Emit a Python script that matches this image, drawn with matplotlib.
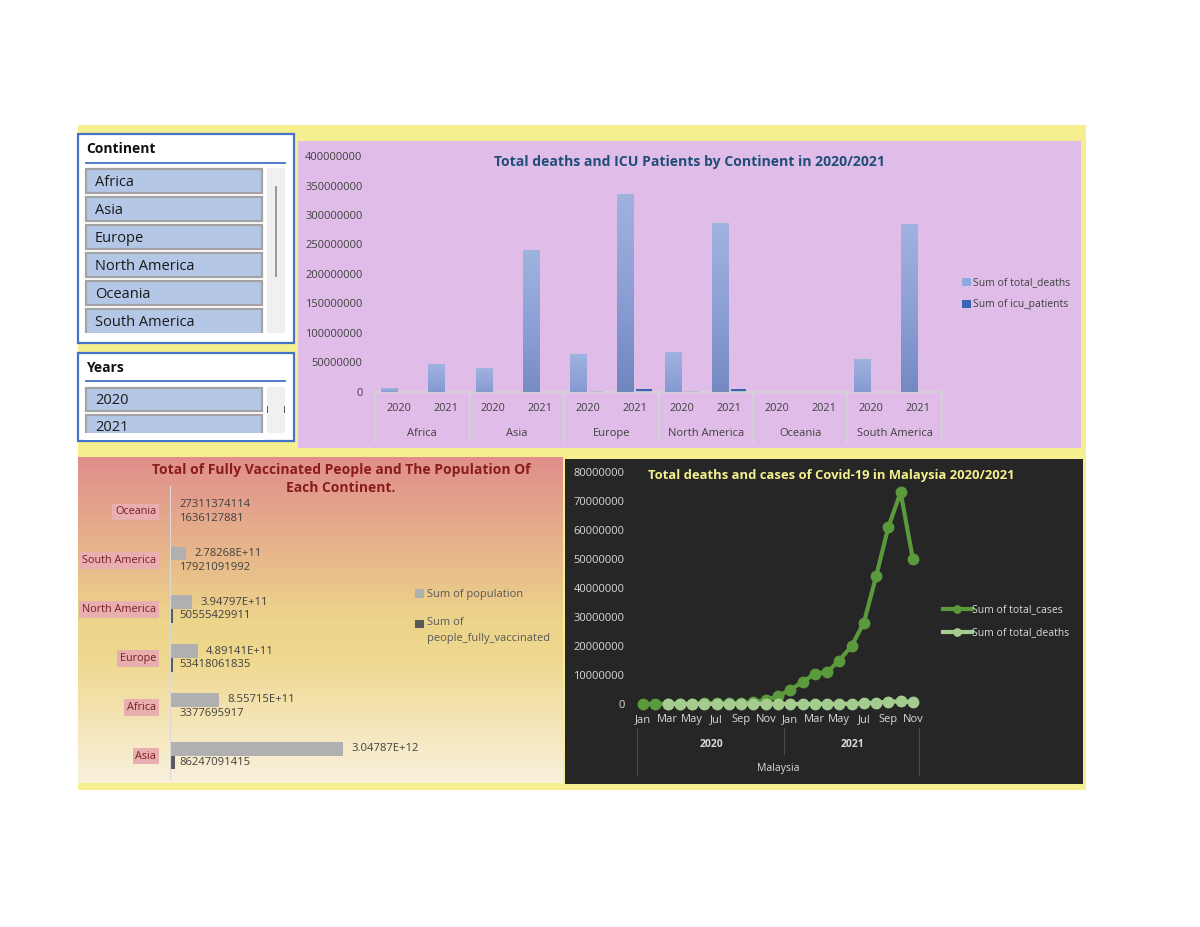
import numpy as np
import matplotlib
matplotlib.use('Agg')
import matplotlib.pyplot as plt
from matplotlib.patches import Rectangle
from matplotlib.colors import LinearSegmentedColormap

plt.rcParams['font.family'] = ['Open Sans', 'DejaVu Sans']

W, H = 1200, 927

# slicers
continents = ['Africa', 'Asia', 'Europe', 'North America', 'Oceania', 'South America']
slicer_years = ['2020', '2021']

# top chart
group_years = ['2020', '2021']
total_deaths = [6e6, 48e6, 40e6, 240e6, 64e6, 335e6, 67e6, 286e6, 0.3e6, 0.8e6, 56e6, 284e6]
icu_patients = [0, 0, 0, 0, 2.5e6, 5e6, 2.5e6, 5e6, 0, 0, 0, 0]
deaths_ticks = [0, 50000000, 100000000, 150000000, 200000000, 250000000, 300000000, 350000000, 400000000]

# bottom left chart, top to bottom
vax_continents = ['Oceania', 'South America', 'North America', 'Europe', 'Africa', 'Asia']
population = [27311374114, 2.78268e11, 3.94797e11, 4.89141e11, 8.55715e11, 3.04787e12]
fully_vaccinated = [1636127881, 17921091992, 50555429911, 53418061835, 3377695917, 86247091415]
population_labels = ['27311374114', '2.78268E+11', '3.94797E+11', '4.89141E+11', '8.55715E+11', '3.04787E+12']
vaccinated_labels = ['1636127881', '17921091992', '50555429911', '53418061835', '3377695917', '86247091415']

# bottom right chart
months = ['Jan', 'Feb', 'Mar', 'Apr', 'May', 'Jun', 'Jul', 'Aug', 'Sep', 'Oct', 'Nov', 'Dec',
          'Jan', 'Feb', 'Mar', 'Apr', 'May', 'Jun', 'Jul', 'Aug', 'Sep', 'Oct', 'Nov']
my_cases = [0, 0, 0.05e6, 0.1e6, 0.15e6, 0.2e6, 0.25e6, 0.3e6, 0.4e6, 0.6e6, 1.5e6, 2.6e6,
            5e6, 7.5e6, 10.5e6, 11e6, 15e6, 20e6, 28e6, 44e6, 61e6, 73e6, 50e6]
my_deaths = [np.nan, np.nan, 0, 0, 0.01e6, 0.01e6, 0.01e6, 0.01e6, 0.01e6, 0.01e6, 0.02e6, 0.02e6,
             0.02e6, 0.02e6, 0.03e6, 0.04e6, 0.05e6, 0.1e6, 0.2e6, 0.5e6, 0.8e6, 0.9e6, 0.7e6]
cases_ticks = [0, 10000000, 20000000, 30000000, 40000000, 50000000, 60000000, 70000000, 80000000]

fig = plt.figure(figsize=(W / 100, H / 100), dpi=100, facecolor='white')

# everything that is not a chart is laid out in pixels on this one
bg = fig.add_axes([0, 0, 1, 1])
bg.set_xlim(0, W)
bg.set_ylim(H, 0)
bg.axis('off')


def box(x0, y0, x1, y1, fc, ec='none', lw=0, z=1):
    bg.add_patch(Rectangle((x0, y0), x1 - x0, y1 - y0, fc=fc, ec=ec, lw=lw, zorder=z))


def px_axes(x0, y0, x1, y1):
    ax = fig.add_axes([x0 / W, 1 - y1 / H, (x1 - x0) / W, (y1 - y0) / H])
    ax.patch.set_alpha(0)
    return ax


box(78, 125, 1086, 790, '#F6EF8F')
box(298, 141, 1081, 448, '#E0BDE8')
box(565, 459, 1083, 784, '#262626')

grad = LinearSegmentedColormap.from_list('g', [(0, '#E08E8C'), (0.5, '#ECD48A'), (0.62, '#EFD88F'), (1, '#F9F1DC')])
bg.imshow(np.linspace(0, 1, 256).reshape(-1, 1), cmap=grad, extent=(78, 563, 783, 457), aspect='auto', zorder=1)
bg.set_xlim(0, W)
bg.set_ylim(H, 0)

# slicers
blue = '#4472C4'
box(77.5, 134, 294, 343, 'white', blue, 1.6, 2)
box(77.5, 353, 294, 441, 'white', blue, 1.6, 2)
bg.text(86, 149, 'Continent', fontsize=10, fontweight='bold', color='#111111', va='center', zorder=3)
bg.text(86, 368, 'Years', fontsize=10, fontweight='bold', color='#111111', va='center', zorder=3)
bg.plot([86, 285], [162.5, 162.5], color=blue, lw=1.3, zorder=3)
bg.plot([86, 285], [380.5, 380.5], color=blue, lw=1.3, zorder=3)

item_tops = [168.5, 196.5, 224.5, 252.5, 280.5, 309]
item_bottoms = [193, 221, 249, 277, 305, 336]
for name, t, b in zip(continents, item_tops, item_bottoms):
    box(86, t, 262, b, '#B4C7E7', '#A3A3A3', 1.6, 3)
    bg.text(95, t + 13.5, name, fontsize=10.5, color='#1A1A1A', va='center', zorder=5)
box(84, 333, 264, 341, 'white', z=4)
box(267, 168, 285, 333, '#F0F0F0', z=3)
box(274.5, 186, 277, 277, '#9A9A9A', z=4)

for name, t, b in zip(slicer_years, [387.5, 414.5], [411, 437]):
    box(86, t, 262, b, '#B4C7E7', '#A3A3A3', 1.6, 3)
    bg.text(95, t + 12.5, name, fontsize=10.5, color='#1A1A1A', va='center', zorder=5)
box(84, 433, 264, 439.5, 'white', z=4)
box(267, 387, 285, 433, '#F0F0F0', z=3)
box(266.5, 406, 267.5, 413, '#555555', z=4)
box(283.5, 406, 284.5, 413, '#555555', z=4)

# top chart
ax = px_axes(375, 156, 942, 392)
x = np.arange(len(total_deaths))
bars = ax.bar(x - 0.2, total_deaths, width=0.34, color='#8EA9DB')
bars2 = ax.bar(x + 0.19, icu_patients, width=0.33, color='#3A62B5')
bar_cmap = LinearSegmentedColormap.from_list('b', ['#7086BE', '#8C9FD5', '#A0B2DE'])
for b in bars:
    if b.get_height() < 1e6:
        continue
    # lighter at the top, getting darker towards the bottom of the tall bars
    low = max(0.0, 0.45 - b.get_height() / 335e6 * 0.45)
    img = ax.imshow(np.linspace(1, low, 64).reshape(-1, 1), cmap=bar_cmap, vmin=0, vmax=1, aspect='auto',
                    extent=(b.get_x(), b.get_x() + b.get_width(), 0, b.get_height()), zorder=3)
    img.set_clip_path(b)
    b.set_visible(False)
ax.set_xlim(-0.5, 11.5)
ax.set_ylim(0, 400000000)
for s in ['top', 'right', 'left']:
    ax.spines[s].set_visible(False)
ax.spines['bottom'].set_color('#D3D3D3')
ax.spines['bottom'].set_linewidth(1.2)
ax.set_yticks(deaths_ticks)
ax.set_yticklabels([str(v) for v in deaths_ticks], fontsize=8, color='#404040')
ax.tick_params(axis='y', length=0, pad=9)
ax.set_xticks(x)
ax.set_xticklabels(group_years * 6, fontsize=7.8, color='#404040')
ax.tick_params(axis='x', length=0, pad=8)
for i, name in enumerate(continents):
    ax.annotate(name, xy=(2 * i + 0.5, 0), xycoords=('data', 'axes fraction'), xytext=(0, -30),
                textcoords='offset points', ha='center', va='center', fontsize=8, color='#404040')
    for edge in (2 * i - 0.5, 2 * i + 1.5):
        ax.plot([edge, edge], [0, -50 / 236], transform=ax.get_xaxis_transform(), color='#D3D3D3',
                lw=1.2, clip_on=False)
leg = ax.legend(handles=[bars[0], bars2[0]], labels=['Sum of total_deaths', 'Sum of icu_patients'],
                loc='center left', bbox_to_anchor=(953 / W, 1 - 294 / H), bbox_transform=fig.transFigure,
                frameon=False, fontsize=7.5, labelspacing=1.05, handlelength=0.8, handleheight=0.8,
                handletextpad=0.25, labelcolor='#404040')
for h in leg.legend_handles:
    h.set_visible(True)
bg.text(689, 161.5, 'Total deaths and ICU Patients by Continent in 2020/2021', fontsize=10.1,
        fontweight='bold', color='#1F4E79', ha='center', va='center', zorder=5)

# bottom left chart
ax2 = px_axes(170, 486, 480, 779)
y = np.arange(len(vax_continents))
pop_bars = ax2.barh(y - 0.12, population, height=0.28, color='#B0B0B0')
vax_bars = ax2.barh(y + 0.16, fully_vaccinated, height=0.28, color='#595959')
ax2.set_ylim(5.5, -0.5)
ax2.set_xlim(0, 3.04787e12 * 310 / 173)
ax2.set_xticks([])
for s in ['top', 'right', 'bottom']:
    ax2.spines[s].set_visible(False)
ax2.spines['left'].set_color('#D9D9D9')
ax2.set_yticks(y)
ax2.set_yticklabels(vax_continents, fontsize=7.8, color='#7B1E1E')
ax2.tick_params(axis='y', length=0, pad=10)
for lab in ax2.get_yticklabels():
    lab.set_bbox(dict(fc='#E9AEB0', ec='none', pad=2))
for b, t in zip(pop_bars, population_labels):
    ax2.annotate(t, xy=(b.get_width(), b.get_y() + b.get_height() / 2), xytext=(6, 0),
                 textcoords='offset points', va='center', fontsize=8.1, color='#404040')
for b, t in zip(vax_bars, vaccinated_labels):
    ax2.annotate(t, xy=(0, b.get_y() + b.get_height() / 2), xytext=(7, 0),
                 textcoords='offset points', va='center', fontsize=8.1, color='#404040')
leg2 = ax2.legend(handles=[pop_bars[0], vax_bars[0]], labels=['Sum of population', 'Sum of\npeople_fully_vaccinated'],
                  loc='upper left', bbox_to_anchor=(405 / W, 1 - 579 / H), bbox_transform=fig.transFigure,
                  frameon=False, fontsize=8, labelspacing=1.5, handlelength=0.8, handleheight=0.8,
                  handletextpad=0.25, labelcolor='#595959', alignment='left')
leg2.get_texts()[1].set_linespacing(1.7)
# the marker sits beside the first line of the wrapped label
leg2.legend_handles[1].set_y(leg2.legend_handles[1].get_y() + 5)
bg.text(341, 479, 'Total of Fully Vaccinated People and The Population Of\nEach Continent.', fontsize=10,
        fontweight='bold', color='#8A1C1C', ha='center', va='center', linespacing=1.35, zorder=5)

# bottom right chart
ax3 = px_axes(637, 472, 919, 704)
xm = np.arange(len(months))
ax3.plot(xm, my_cases, color='#5B9A3C', lw=3, marker='o', ms=7.5, label='Sum of total_cases', clip_on=False, zorder=3)
ax3.plot(xm, my_deaths, color='#A3CC8E', lw=3, marker='o', ms=7.5, label='Sum of total_deaths', clip_on=False, zorder=4)
ax3.set_xlim(-0.5, 22.5)
ax3.set_ylim(0, 80000000)
for s in ax3.spines.values():
    s.set_visible(False)
ax3.set_yticks(cases_ticks)
ax3.set_yticklabels([str(v) for v in cases_ticks], fontsize=8, color='#D9D9D9')
ax3.tick_params(axis='y', length=0, pad=9)
ax3.set_xticks(xm[::2])
ax3.set_xticklabels(months[::2], fontsize=8, color='#D9D9D9')
ax3.tick_params(axis='x', length=0, pad=7)
for lab, cx in (('2020', 5.6), ('2021', 17.1)):
    ax3.annotate(lab, xy=(cx, 0), xycoords=('data', 'axes fraction'), xytext=(0, -29), textcoords='offset points',
                 ha='center', va='center', fontsize=7.5, fontweight='bold', color='#D9D9D9')
ax3.annotate('Malaysia', xy=(11, 0), xycoords=('data', 'axes fraction'), xytext=(0, -46.5), textcoords='offset points',
             ha='center', va='center', fontsize=7.5, color='#D9D9D9')
for edge, bottom in ((-0.5, -71), (11.5, -50), (22.5, -71)):
    ax3.plot([edge, edge], [-24 / 232, bottom / 232], transform=ax3.get_xaxis_transform(), color='#4A4A4A',
             lw=0.8, clip_on=False)
leg3 = ax3.legend(loc='upper left', bbox_to_anchor=(934 / W, 1 - 595 / H), bbox_transform=fig.transFigure, frameon=False,
                  fontsize=7.5, labelspacing=1.15, handlelength=2.7, handletextpad=0, labelcolor='#D9D9D9', markerscale=0.7)
bg.text(831, 475, 'Total deaths and cases of Covid-19 in Malaysia 2020/2021', fontsize=9.4,
        fontweight='bold', color='#F5F08C', ha='center', va='center', zorder=5)

fig.savefig('out.png', dpi=100)
